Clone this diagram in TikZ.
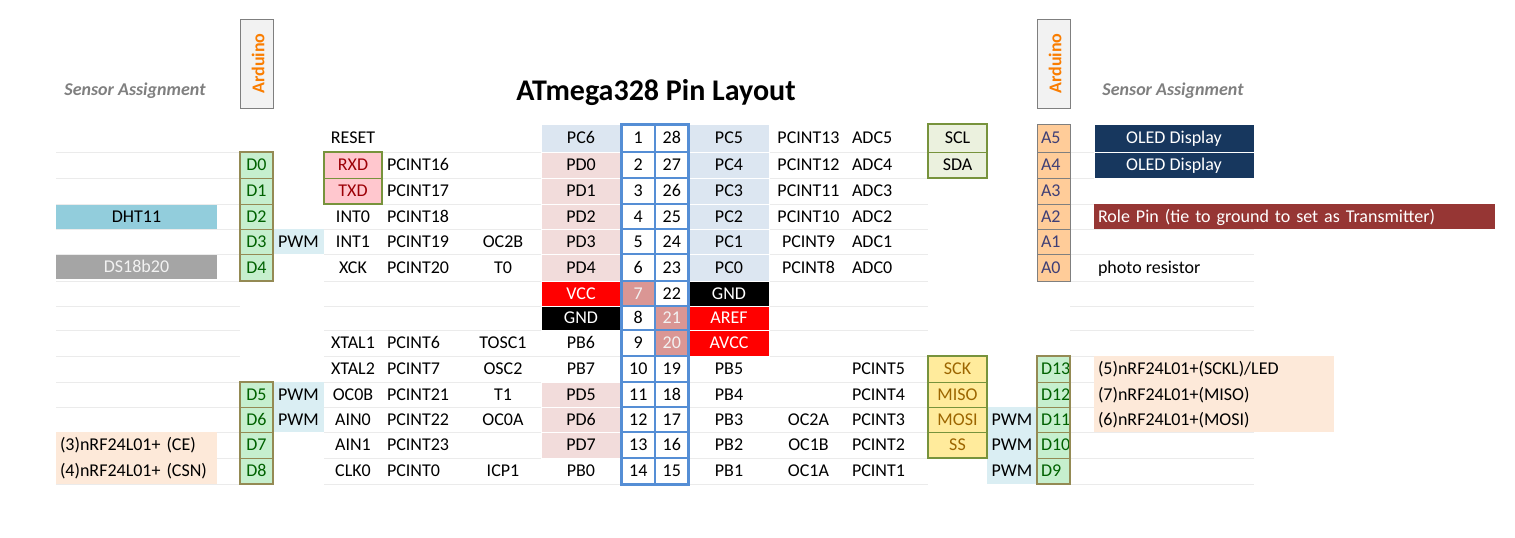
\documentclass[tikz,border=0pt]{standalone}
\usepackage{fontspec}
\setmainfont{Carlito}
\usepackage{tikz}
\usetikzlibrary{positioning, shapes, arrows.meta}

\definecolor{gridgray}{HTML}{EBEBEB}
\definecolor{notegray}{HTML}{7F7F7F}
\definecolor{calcfill}{HTML}{F2F2F2}
\definecolor{calctext}{HTML}{FA7D00}
\definecolor{goodfill}{HTML}{C6EFCE}
\definecolor{goodtext}{HTML}{006100}
\definecolor{dframe}{HTML}{948A54}
\definecolor{badfill}{HTML}{FFC7CE}
\definecolor{badtext}{HTML}{9C0006}
\definecolor{leafgreen}{HTML}{77933C}
\definecolor{pwmfill}{HTML}{DAEEF3}
\definecolor{dhtfill}{HTML}{92CDDC}
\definecolor{dsfill}{HTML}{A5A5A5}
\definecolor{nrffill}{HTML}{FDE9D9}
\definecolor{portdfill}{HTML}{F2DCDB}
\definecolor{portcfill}{HTML}{DCE6F1}
\definecolor{pinred}{HTML}{DA9694}
\definecolor{pinblue}{HTML}{558ED5}
\definecolor{i2cfill}{HTML}{EBF1DE}
\definecolor{spifill}{HTML}{FFEB9C}
\definecolor{spitext}{HTML}{9C6500}
\definecolor{inputfill}{HTML}{FFCC99}
\definecolor{inputtext}{HTML}{3F3F76}
\definecolor{oledblue}{HTML}{17375E}
\definecolor{rolered}{HTML}{963634}

\tikzset{
  header/.style={draw=notegray, fill=calcfill, text=calctext, font=\fontsize{18}{21}\selectfont\bfseries, rotate=90, minimum width=89, minimum height=33, text height=15.6pt},
  note/.style={text=notegray, font=\fontsize{18}{21}\selectfont\bfseries\itshape},
  titletext/.style={font=\fontsize{30}{34}\selectfont\bfseries, text height=19.3pt},
  dpin/.style={draw=dframe, line width=1pt, fill=goodfill, text=goodtext, minimum width=33},
  dpinr/.style={dpin, align=left, text width=25, inner xsep=4pt},
  apin/.style={draw=notegray, line width=0.8pt, fill=inputfill, text=inputtext, align=left, text width=25, inner xsep=4pt},
  uart/.style={draw=leafgreen, line width=1pt, fill=badfill, text=badtext, minimum width=58},
  i2c/.style={draw=leafgreen, line width=1pt, fill=i2cfill, minimum width=59},
  spi/.style={draw=leafgreen, line width=1pt, fill=spifill, text=spitext, minimum width=59},
  pwm/.style={fill=pwmfill, minimum width=#1},
  portd/.style={draw=white, line width=0.8pt, fill=portdfill, minimum width=80},
  portc/.style={draw=white, line width=0.8pt, fill=portcfill, minimum width=80},
  vccbox/.style={draw=white, line width=0.8pt, fill=red, text=white, minimum width=80},
  gndbox/.style={draw=white, line width=0.8pt, fill=black, text=white, minimum width=80},
  pinbox/.style={draw=pinblue, line width=1.5pt, fill=white, minimum width=33.5},
  hotpin/.style={pinbox, fill=pinred, text=calcfill},
  sensorbox/.style={minimum width=161},
  nrfbox/.style={fill=nrffill, align=left, text width=#1, inner xsep=4pt},
  oledbox/.style={draw=white, line width=0.8pt, fill=oledblue, text=white, minimum width=160}
}

\begin{document}
\begin{tikzpicture}[x=1pt, y=-1pt, every node/.style={inner sep=0pt, outer sep=0pt, text height=11.6pt, text depth=0pt, font=\fontsize{18}{21}\selectfont}]
  \useasboundingbox (0,0) rectangle (1515,538);
  % faint sheet lines
  \foreach \b in {152,178,204,229,254,281,306,330,356,382,407,432,458,484}
    \draw[gridgray, line width=0.8pt] (56,\b) -- (240,\b) (324,\b) -- (928,\b) (1070,\b) -- (1254,\b);

  \node[note] (sensorl) at (135,89.5) {Sensor Assignment};
  \node[header] (arduinol) at (256.5,63.5) {Arduino};
  \node[titletext] (title) at (656,91) {ATmega328 Pin Layout};
  \node[header] (arduinor) at (1053.5,63.5) {Arduino};
  \node[note] (sensorr) at (1173,89.5) {Sensor Assignment};

  % row 1
  \node (reset) at (353,138) {RESET};
  \node[portc, minimum height=28] (pc6) at (581,138) {PC6};
  \node[pinbox, minimum height=28] (p1) at (638.25,138) {1};
  \node[pinbox, minimum height=28] (p28) at (671.75,138) {28};
  \node[portc, minimum height=28] (pc5) at (729,138) {PC5};
  \node (pcint13) at (808.5,138) {PCINT13};
  \node[anchor=west] (adc5) at (852,138) {ADC5};
  \node[i2c, minimum height=28] (scl) at (957.5,138) {SCL};
  \node[apin, minimum height=28] (a5) at (1053.5,138) {A5};
  \node[oledbox, minimum height=28] (oleda) at (1174,138) {OLED Display};

  % row 2
  \node[dpin, minimum height=26] (d0) at (256.5,165) {D0};
  \node[uart, minimum height=26] (rxd) at (353,165) {RXD};
  \node[anchor=west] (pcint16) at (387,165) {PCINT16};
  \node[portd, minimum height=26] (pd0) at (581,165) {PD0};
  \node[pinbox, minimum height=26] (p2) at (638.25,165) {2};
  \node[pinbox, minimum height=26] (p27) at (671.75,165) {27};
  \node[portc, minimum height=26] (pc4) at (729,165) {PC4};
  \node (pcint12) at (808.5,165) {PCINT12};
  \node[anchor=west] (adc4) at (852,165) {ADC4};
  \node[i2c, minimum height=26] (sda) at (957.5,165) {SDA};
  \node[apin, minimum height=26] (a4) at (1053.5,165) {A4};
  \node[oledbox, minimum height=26] (oledb) at (1174,165) {OLED Display};

  % row 3
  \node[dpin, minimum height=26] (d1) at (256.5,191) {D1};
  \node[uart, minimum height=26] (txd) at (353,191) {TXD};
  \node[anchor=west] (pcint17) at (387,191) {PCINT17};
  \node[portd, minimum height=26] (pd1) at (581,191) {PD1};
  \node[pinbox, minimum height=26] (p3) at (638.25,191) {3};
  \node[pinbox, minimum height=26] (p26) at (671.75,191) {26};
  \node[portc, minimum height=26] (pc3) at (729,191) {PC3};
  \node (pcint11) at (808.5,191) {PCINT11};
  \node[anchor=west] (adc3) at (852,191) {ADC3};
  \node[apin, minimum height=26] (a3) at (1053.5,191) {A3};

  % row 4
  \node[sensorbox, fill=dhtfill, minimum height=24] (dht) at (136.5,217) {DHT11};
  \node[dpin, minimum height=25] (d2) at (256.5,216.5) {D2};
  \node (int0) at (353,216.5) {INT0};
  \node[anchor=west] (pcint18) at (387,216.5) {PCINT18};
  \node[portd, minimum height=25] (pd2) at (581,216.5) {PD2};
  \node[pinbox, minimum height=25] (p4) at (638.25,216.5) {4};
  \node[pinbox, minimum height=25] (p25) at (671.75,216.5) {25};
  \node[portc, minimum height=25] (pc2) at (729,216.5) {PC2};
  \node (pcint10) at (808.5,216.5) {PCINT10};
  \node[anchor=west] (adc2) at (852,216.5) {ADC2};
  \node[apin, minimum height=25] (a2) at (1053.5,216.5) {A2};
  \node[fill=rolered, text=white, align=left, text width=393, inner xsep=4pt, minimum height=25] (role) at (1294.5,216.5) {Role Pin (tie to ground to set as Transmitter)};

  % row 5
  \node[dpin, minimum height=25] (d3) at (256.5,241.5) {D3};
  \node[pwm=51, minimum height=25] (pwmd3) at (298.5,241.5) {PWM};
  \node (int1) at (353,241.5) {INT1};
  \node[anchor=west] (pcint19) at (387,241.5) {PCINT19};
  \node (oc2b) at (503,241.5) {OC2B};
  \node[portd, minimum height=25] (pd3) at (581,241.5) {PD3};
  \node[pinbox, minimum height=25] (p5) at (638.25,241.5) {5};
  \node[pinbox, minimum height=25] (p24) at (671.75,241.5) {24};
  \node[portc, minimum height=25] (pc1) at (729,241.5) {PC1};
  \node (pcint9) at (808.5,241.5) {PCINT9};
  \node[anchor=west] (adc1) at (852,241.5) {ADC1};
  \node[apin, minimum height=25] (a1) at (1053.5,241.5) {A1};

  % row 6
  \node[sensorbox, fill=dsfill, text=calcfill, minimum height=24.5] (ds) at (136.5,267) {DS18b20};
  \node[dpin, minimum height=27] (d4) at (256.5,267.5) {D4};
  \node (xck) at (353,267.5) {XCK};
  \node[anchor=west] (pcint20) at (387,267.5) {PCINT20};
  \node (t0) at (503,267.5) {T0};
  \node[portd, minimum height=27] (pd4) at (581,267.5) {PD4};
  \node[pinbox, minimum height=27] (p6) at (638.25,267.5) {6};
  \node[pinbox, minimum height=27] (p23) at (671.75,267.5) {23};
  \node[portc, minimum height=27] (pc0) at (729,267.5) {PC0};
  \node (pcint8) at (808.5,267.5) {PCINT8};
  \node[anchor=west] (adc0) at (852,267.5) {ADC0};
  \node[apin, minimum height=27] (a0) at (1053.5,267.5) {A0};
  \node[anchor=west] (photo) at (1098,267.5) {photo resistor};

  % rows 7 to 9
  \node[vccbox, minimum height=25] (vcc) at (581,293.5) {VCC};
  \node[hotpin, minimum height=25] (p7) at (638.25,293.5) {7};
  \node[pinbox, minimum height=25] (p22) at (671.75,293.5) {22};
  \node[gndbox, minimum height=25] (gnda) at (729,293.5) {GND};
  \node[gndbox, minimum height=24] (gndb) at (581,318) {GND};
  \node[pinbox, minimum height=24] (p8) at (638.25,318) {8};
  \node[hotpin, minimum height=24] (p21) at (671.75,318) {21};
  \node[vccbox, minimum height=24] (aref) at (729,318) {AREF};
  \node (xtal1) at (353,343) {XTAL1};
  \node[anchor=west] (pcint6) at (387,343) {PCINT6};
  \node (tosc1) at (503,343) {TOSC1};
  \node (pb6) at (581,343) {PB6};
  \node[pinbox, minimum height=26] (p9) at (638.25,343) {9};
  \node[hotpin, minimum height=26] (p20) at (671.75,343) {20};
  \node[vccbox, minimum height=26] (avcc) at (729,343) {AVCC};

  % row 10
  \node (xtal2) at (353,369) {XTAL2};
  \node[anchor=west] (pcint7) at (387,369) {PCINT7};
  \node (osc2) at (503,369) {OSC2};
  \node (pb7) at (581,369) {PB7};
  \node[pinbox, minimum height=26] (p10) at (638.25,369) {10};
  \node[pinbox, minimum height=26] (p19) at (671.75,369) {19};
  \node (pb5) at (729,369) {PB5};
  \node[anchor=west] (pcint5) at (852,369) {PCINT5};
  \node[spi, minimum height=26] (sck) at (957.5,369) {SCK};
  \node[dpinr, minimum height=26] (d13) at (1053.5,369) {D13};
  \node[nrfbox=232, minimum height=26] (nrfsck) at (1214,369) {(5)nRF24L01+(SCKL)/LED};

  % row 11
  \node[dpin, minimum height=25] (d5) at (256.5,394.5) {D5};
  \node[pwm=51, minimum height=25] (pwmd5) at (298.5,394.5) {PWM};
  \node (oc0b) at (353,394.5) {OC0B};
  \node[anchor=west] (pcint21) at (387,394.5) {PCINT21};
  \node (t1) at (503,394.5) {T1};
  \node[portd, minimum height=25] (pd5) at (581,394.5) {PD5};
  \node[pinbox, minimum height=25] (p11) at (638.25,394.5) {11};
  \node[pinbox, minimum height=25] (p18) at (671.75,394.5) {18};
  \node (pb4) at (729,394.5) {PB4};
  \node[anchor=west] (pcint4) at (852,394.5) {PCINT4};
  \node[spi, minimum height=25] (miso) at (957.5,394.5) {MISO};
  \node[dpinr, minimum height=25] (d12) at (1053.5,394.5) {D12};
  \node[nrfbox=232, minimum height=25] (nrfmiso) at (1214,394.5) {(7)nRF24L01+(MISO)};

  % row 12
  \node[dpin, minimum height=25] (d6) at (256.5,419.5) {D6};
  \node[pwm=51, minimum height=25] (pwmd6) at (298.5,419.5) {PWM};
  \node (ain0) at (353,419.5) {AIN0};
  \node[anchor=west] (pcint22) at (387,419.5) {PCINT22};
  \node (oc0a) at (503,419.5) {OC0A};
  \node[portd, minimum height=25] (pd6) at (581,419.5) {PD6};
  \node[pinbox, minimum height=25] (p12) at (638.25,419.5) {12};
  \node[pinbox, minimum height=25] (p17) at (671.75,419.5) {17};
  \node (pb3) at (729,419.5) {PB3};
  \node (oc2a) at (808.5,419.5) {OC2A};
  \node[anchor=west] (pcint3) at (852,419.5) {PCINT3};
  \node[spi, minimum height=25] (mosi) at (957.5,419.5) {MOSI};
  \node[pwm=50, minimum height=25] (pwmd11) at (1012,419.5) {PWM};
  \node[dpinr, minimum height=25] (d11) at (1053.5,419.5) {D11};
  \node[nrfbox=232, minimum height=25] (nrfmosi) at (1214,419.5) {(6)nRF24L01+(MOSI)};

  % row 13
  \node[nrfbox=153, minimum height=26] (nrfce) at (136.5,445) {(3)nRF24L01+ (CE)};
  \node[dpin, minimum height=26] (d7) at (256.5,445) {D7};
  \node (ain1) at (353,445) {AIN1};
  \node[anchor=west] (pcint23) at (387,445) {PCINT23};
  \node[portd, minimum height=26] (pd7) at (581,445) {PD7};
  \node[pinbox, minimum height=26] (p13) at (638.25,445) {13};
  \node[pinbox, minimum height=26] (p16) at (671.75,445) {16};
  \node (pb2) at (729,445) {PB2};
  \node (oc1b) at (808.5,445) {OC1B};
  \node[anchor=west] (pcint2) at (852,445) {PCINT2};
  \node[spi, minimum height=26] (ss) at (957.5,445) {SS};
  \node[pwm=50, minimum height=26] (pwmd10) at (1012,445) {PWM};
  \node[dpinr, minimum height=26] (d10) at (1053.5,445) {D10};

  % row 14
  \node[nrfbox=153, minimum height=26] (nrfcsn) at (136.5,471) {(4)nRF24L01+ (CSN)};
  \node[dpin, minimum height=26] (d8) at (256.5,471) {D8};
  \node (clk0) at (353,471) {CLK0};
  \node[anchor=west] (pcint0) at (387,471) {PCINT0};
  \node (icp1) at (503,471) {ICP1};
  \node (pb0) at (581,471) {PB0};
  \node[pinbox, minimum height=26] (p14) at (638.25,471) {14};
  \node[pinbox, minimum height=26] (p15) at (671.75,471) {15};
  \node (pb1) at (729,471) {PB1};
  \node (oc1a) at (808.5,471) {OC1A};
  \node[anchor=west] (pcint1) at (852,471) {PCINT1};
  \node[pwm=50, minimum height=26] (pwmd9) at (1012,471) {PWM};
  \node[dpinr, minimum height=26] (d9) at (1053.5,471) {D9};

  % group frames
  \draw[dframe, line width=2pt] (d0.north west) rectangle (d4.south east);
  \draw[dframe, line width=2pt] (d5.north west) rectangle (d8.south east);
  \draw[dframe, line width=2pt] (d13.north west) rectangle (d9.south east);
  \draw[leafgreen, line width=2pt] (rxd.north west) rectangle (txd.south east);
  \draw[leafgreen, line width=2pt] (scl.north west) rectangle (sda.south east);
  \draw[leafgreen, line width=2pt] (sck.north west) rectangle (ss.south east);
  \draw[pinblue, line width=3pt] (p1.north west) rectangle (p15.south east);
\end{tikzpicture}
\end{document}
